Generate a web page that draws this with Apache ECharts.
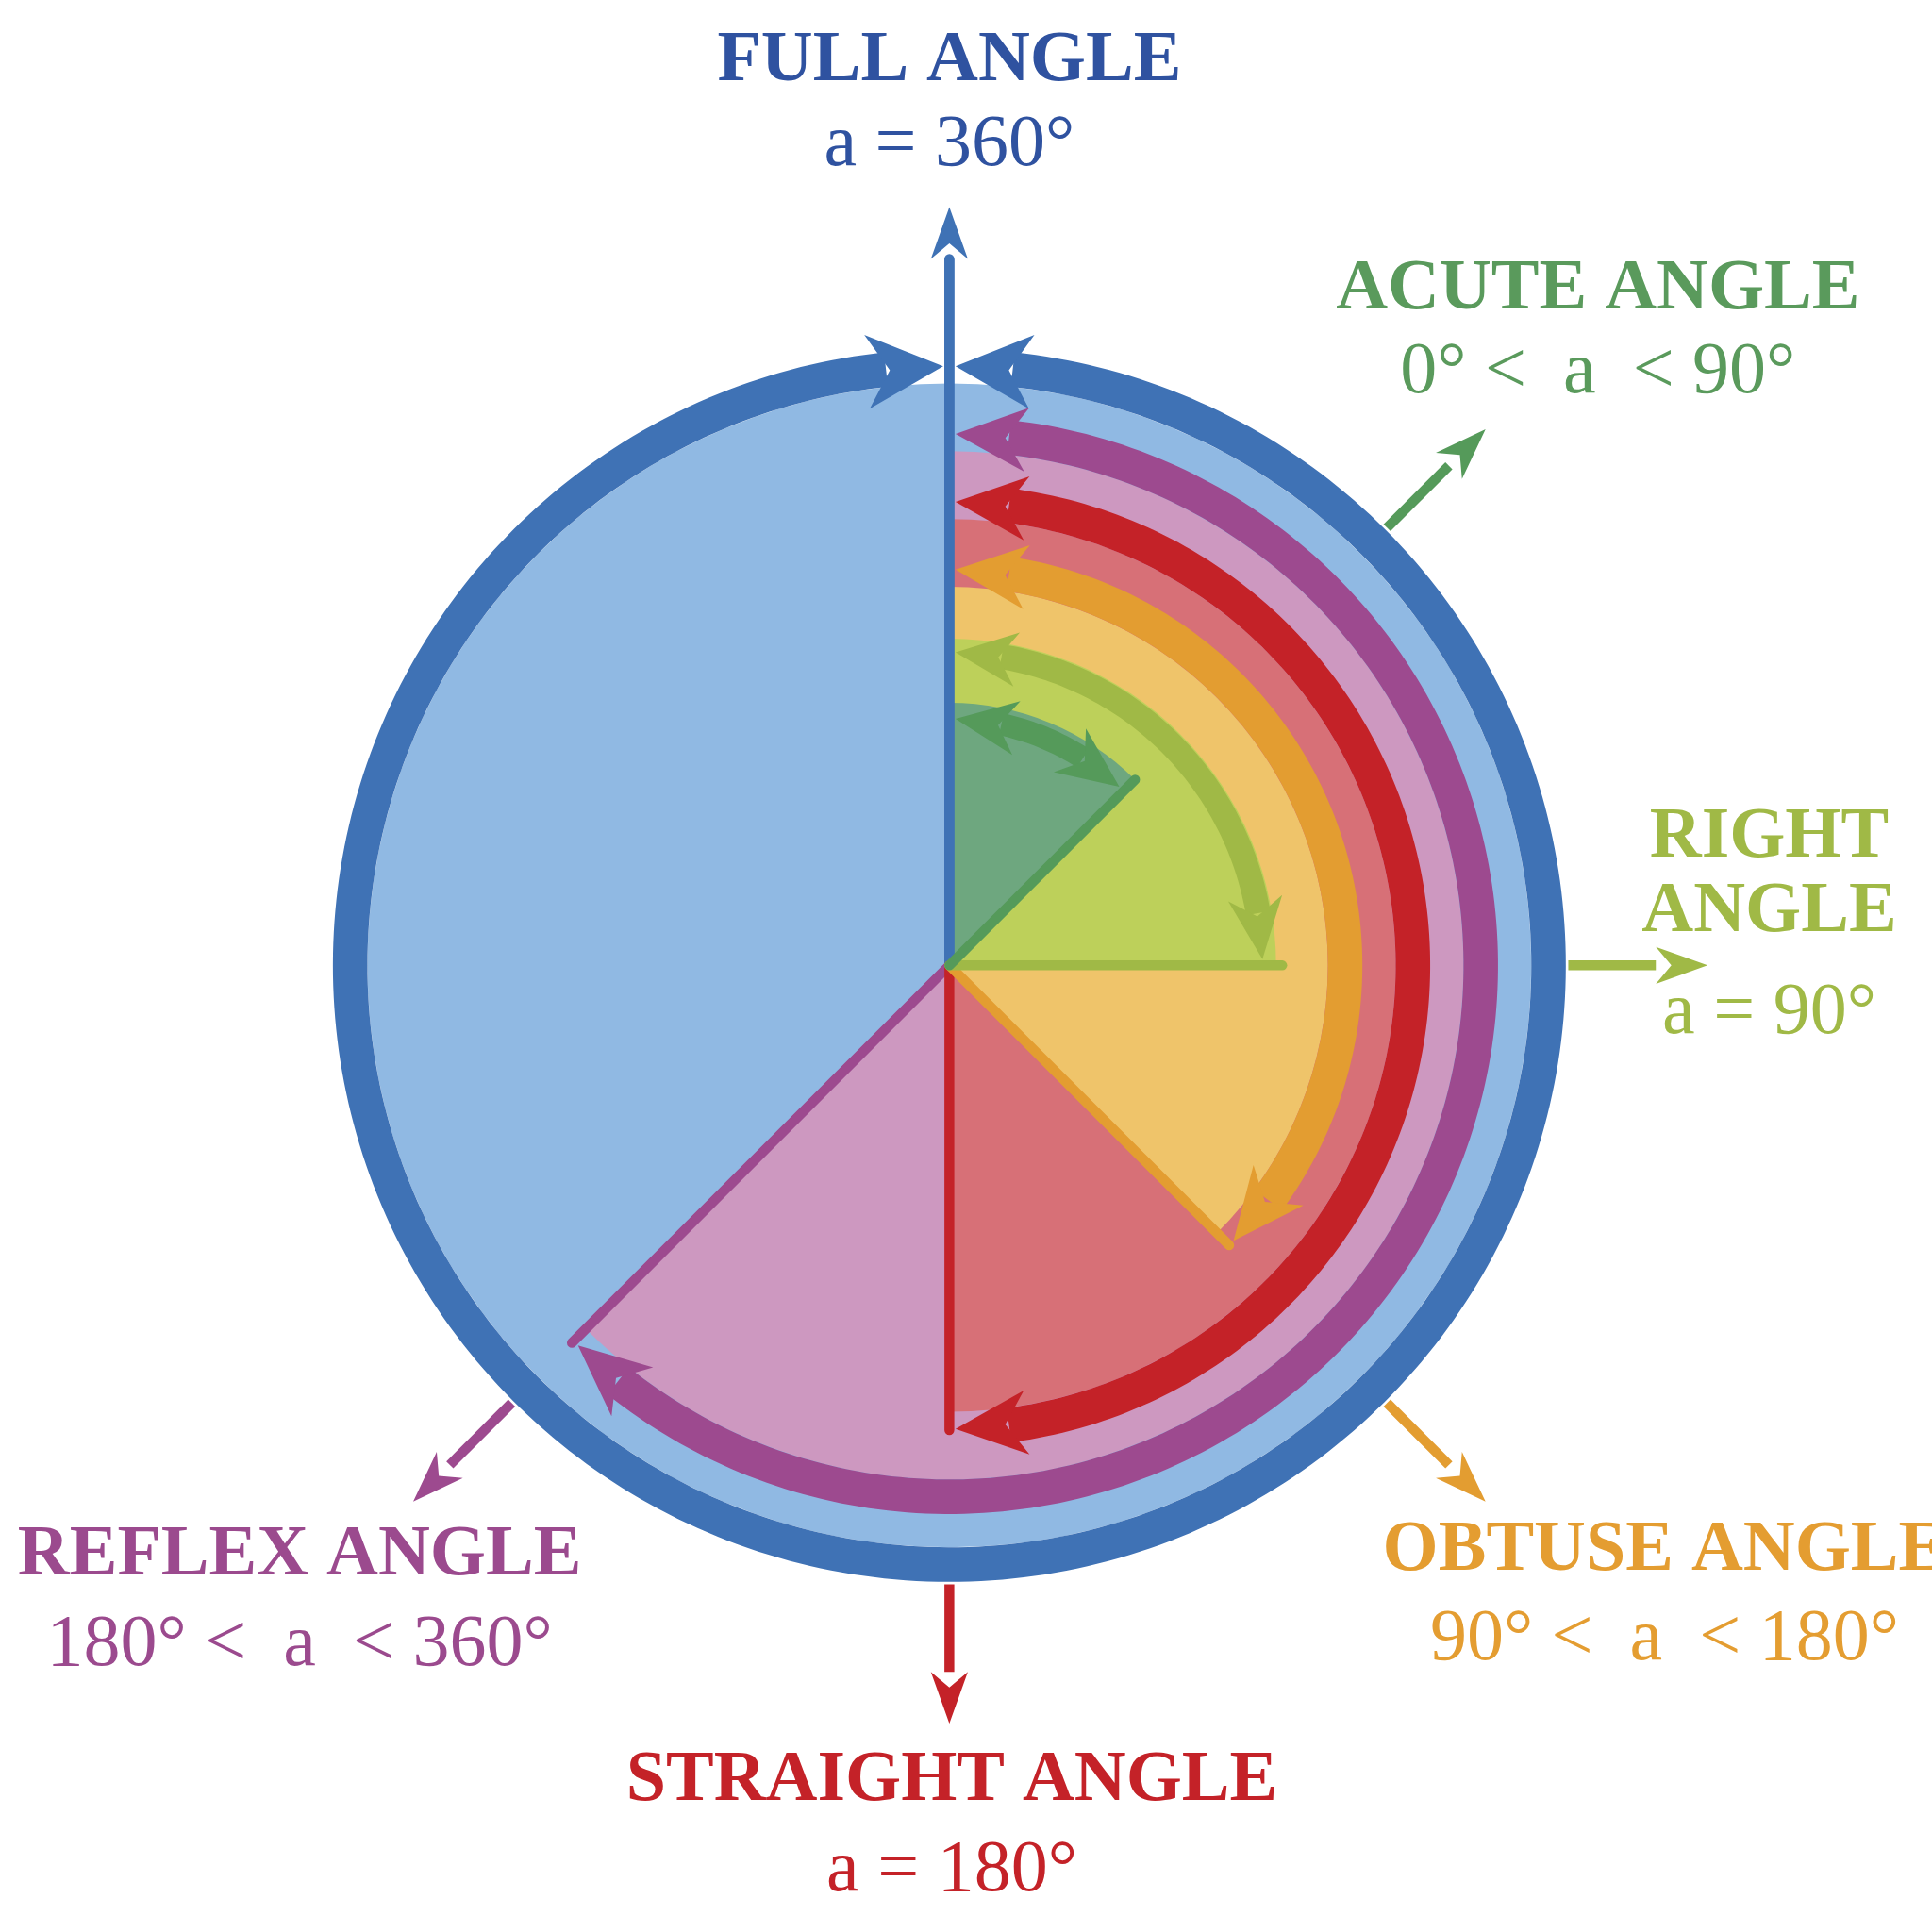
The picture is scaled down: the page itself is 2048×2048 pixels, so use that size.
<!DOCTYPE html>
<html>
<head>
<meta charset="utf-8">
<script src="https://cdn.jsdelivr.net/npm/echarts@6/dist/echarts.min.js"></script>
<style>html,body{margin:0;background:#fff}#main{width:2048px;height:2048px}</style>
</head>
<body>
<div id="main"></div>
<script>
// angle kinds, drawn from the outermost one inwards
var angleNames = ['FULL ANGLE', 'REFLEX ANGLE', 'STRAIGHT ANGLE', 'OBTUSE ANGLE', 'RIGHT ANGLE', 'ACUTE ANGLE']
var angleValues = [360, 225, 180, 135, 90, 45]
var formulas = ['a = 360°', '180° <  a  < 360°', 'a = 180°', '90° <  a  < 180°', 'a = 90°', '0° <  a  < 90°']
var strokeColors = ['#3f72b5', '#9d4a8f', '#c42228', '#e39d31', '#a0b946', '#559a5a']
var fillColors = ['#90b9e3', '#cd98c0', '#d77077', '#efc46a', '#bdd05a', '#6ea77f']
var textColors = ['#2f52a0', '#9b4a8e', '#c42228', '#e49d31', '#a0b946', '#5a9a5c']

var k = 2048 / 1567
// layout in reference units: fill radius, arc radius, arc width, ray length
var fillR = [472, 417, 362, 307, 265, 213]
var arcR = [486, 431, 376, 321, 254, 200]
var arcW = [28, 28, 28, 28, 20, 18]
var rayR = [613, 433, 377, 321, 270, 213]
var labelPos = [[770, 50, 118], [243, 1262, 1335], [772, 1445, 1518], [1350, 1258, 1330], [1435, 680, 822], [1296, 235, 303]]

var dom = document.getElementById('main')
var myChart = echarts.init(dom)

function arrowHead (T, B, w, color) {
  var dx = T[0] - B[0], dy = T[1] - B[1]
  var l = Math.sqrt(dx * dx + dy * dy)
  var ux = dx / l, uy = dy / l, nx = -uy, ny = ux
  return {
    type: 'polygon',
    shape: {points: [T, [B[0] + nx * w, B[1] + ny * w], [B[0] + ux * l * 0.3, B[1] + uy * l * 0.3], [B[0] - nx * w, B[1] - ny * w]]},
    style: {fill: color}
  }
}

function renderArea (params, api) {
  var i = api.value(1)
  var A = api.value(0)
  var c = api.coord([0, 0])
  var children = []
  var col = strokeColors[i]
  if (A >= 360) {
    children.push({type: 'circle', shape: {cx: c[0], cy: c[1], r: fillR[i] * k}, style: {fill: fillColors[i]}})
  } else {
    children.push({type: 'sector', shape: {cx: c[0], cy: c[1], r0: 0, r: fillR[i] * k, startAngle: -Math.PI / 2, endAngle: -Math.PI / 2 + A * Math.PI / 180, clockwise: true}, style: {fill: fillColors[i]}})
  }
  var r = arcR[i]
  var len = (i === 0 ? 62 : (arcW[i] > 20 ? 58 : 50))
  var hw = (i === 0 ? 30 : (arcW[i] > 20 ? 26 : 22))
  var gap = 5 / r * 180 / Math.PI
  var dl = len / r * 180 / Math.PI
  var a0 = gap, a1 = A - gap
  var pts = []
  for (var a = a0 + dl * 0.75; a <= a1 - dl * 0.75; a += 1) pts.push(api.coord([r, a]))
  pts.push(api.coord([r, a1 - dl * 0.75]))
  children.push({type: 'polyline', shape: {points: pts}, style: {stroke: col, lineWidth: arcW[i] * k, fill: null}})
  children.push(arrowHead(api.coord([r, a0]), api.coord([r, a0 + dl]), hw * k, col))
  children.push(arrowHead(api.coord([r, a1]), api.coord([r, a1 - dl]), hw * k, col))
  return {type: 'group', children: children}
}

function renderRay (params, api) {
  var i = api.value(1)
  var A = api.value(0) % 360
  var col = strokeColors[i]
  var c = api.coord([0, 0])
  var children = []
  // inner ray
  var end = api.coord([rayR[i] - (i === 0 ? 40 : 0), A])
  children.push({type: 'line', shape: {x1: c[0], y1: c[1], x2: end[0], y2: end[1]}, style: {stroke: col, lineWidth: 8 * k, lineCap: 'round'}})
  // outer pointer
  var s = api.coord([i === 0 ? 0 : 502, A])
  var b = api.coord([573, A])
  children.push({type: 'line', shape: {x1: s[0], y1: s[1], x2: b[0], y2: b[1]}, style: {stroke: col, lineWidth: 8 * k}})
  children.push(arrowHead(api.coord([615, A]), b, 15 * k, col))
  return {type: 'group', children: children}
}

var seriesData = angleValues.map(function (v, i) { return [v, i] })

var graphics = []
angleNames.forEach(function (name, i) {
  var p = labelPos[i]
  var lines = name === 'RIGHT ANGLE' ? [['RIGHT', p[1]], ['ANGLE', p[1] + 60]] : [[name, p[1]]]
  lines.forEach(function (ln) {
    graphics.push({type: 'text', x: p[0] * k, y: ln[1] * k, style: {text: ln[0], fill: textColors[i], font: 'bold ' + Math.round(58 * k) + 'px "Liberation Sans Narrow"', textAlign: 'center', textVerticalAlign: 'middle'}})
  })
  graphics.push({type: 'text', x: p[0] * k, y: p[2] * k, style: {text: formulas[i], fill: textColors[i], font: Math.round(60 * k) + 'px "Liberation Sans Narrow"', textAlign: 'center', textVerticalAlign: 'middle'}})
})

var option = {
  backgroundColor: '#fff',
  animation: false,
  polar: {center: [770 * k, 783 * k], radius: 615 * k},
  angleAxis: {type: 'value', min: 0, max: 360, startAngle: 90, clockwise: true, show: false},
  radiusAxis: {type: 'value', min: 0, max: 615, show: false},
  series: [
    {type: 'custom', coordinateSystem: 'polar', renderItem: renderArea, data: seriesData, encode: {angle: 0, radius: 1}},
    {type: 'custom', coordinateSystem: 'polar', renderItem: renderRay, data: seriesData, encode: {angle: 0, radius: 1}}
  ],
  graphic: graphics
}
myChart.setOption(option, true)
</script>
</body>
</html>
